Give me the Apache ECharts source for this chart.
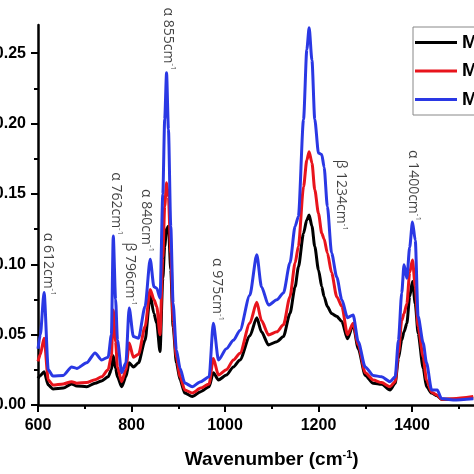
<!DOCTYPE html>
<html>
<head>
<meta charset="utf-8">
<script src="https://cdn.jsdelivr.net/npm/echarts@6/dist/echarts.min.js"></script>
<style>html,body{margin:0;padding:0;background:#fff;}#c{width:474px;height:474px;}</style>
</head>
<body>
<div id="c"></div>
<script>
var seriesNames = ['M1', 'M2', 'M3'];
var seriesColors = ['#000000', '#e8141c', '#2a38e4'];
var wavenumber = [600,605,613,622,632,654,672,683,704,722,736,750,757,761,766,770,779,788,795,804,815,829,840,848,854,861,867,871,875,879,884,889,896,904,914,930,948,966,975,986,1003,1018,1032,1053,1068,1078,1093,1111,1125,1139,1150,1157,1168,1175,1180,1186,1192,1200,1207,1212,1219,1228,1239,1250,1262,1274,1285,1300,1317,1335,1353,1364,1371,1378,1383,1389,1395,1401,1407,1413,1424,1431,1442,1454,1463,1488,1531];
var blackValues = [0.019,0.021,0.0237,0.0142,0.0114,0.012,0.015,0.0135,0.013,0.0154,0.017,0.020,0.025,0.035,0.026,0.020,0.013,0.020,0.030,0.027,0.030,0.046,0.078,0.065,0.058,0.038,0.090,0.1126,0.125,0.127,0.096,0.0557,0.030,0.0178,0.0085,0.006,0.0095,0.013,0.023,0.0178,0.0213,0.027,0.032,0.049,0.062,0.052,0.0427,0.045,0.0486,0.065,0.084,0.098,0.122,0.1316,0.135,0.127,0.1126,0.096,0.084,0.077,0.070,0.065,0.063,0.0593,0.047,0.057,0.040,0.021,0.0154,0.0147,0.0107,0.0154,0.033,0.046,0.052,0.058,0.077,0.0877,0.072,0.051,0.026,0.013,0.0085,0.0065,0.004,0.004,0.005];
var redValues = [0.031,0.036,0.0475,0.0178,0.0142,0.015,0.0166,0.0155,0.016,0.018,0.020,0.025,0.035,0.0675,0.045,0.027,0.0166,0.025,0.044,0.034,0.036,0.0557,0.082,0.075,0.070,0.050,0.105,0.141,0.158,0.148,0.108,0.060,0.034,0.020,0.0107,0.0085,0.012,0.015,0.033,0.0213,0.025,0.032,0.0367,0.058,0.073,0.060,0.0498,0.052,0.057,0.077,0.101,0.1126,0.155,0.174,0.180,0.172,0.153,0.136,0.122,0.118,0.108,0.094,0.077,0.070,0.050,0.058,0.0427,0.023,0.0178,0.0159,0.013,0.0166,0.037,0.060,0.065,0.072,0.094,0.103,0.084,0.0557,0.034,0.0178,0.009,0.007,0.004,0.0045,0.006];
var blueValues = [0.040,0.050,0.080,0.025,0.0206,0.021,0.027,0.026,0.030,0.037,0.032,0.034,0.050,0.120,0.075,0.046,0.023,0.030,0.069,0.0486,0.0475,0.070,0.1036,0.084,0.083,0.076,0.150,0.203,0.236,0.196,0.127,0.0725,0.039,0.026,0.0156,0.013,0.0166,0.020,0.058,0.032,0.040,0.046,0.053,0.078,0.1067,0.084,0.071,0.0747,0.0796,0.101,0.127,0.134,0.203,0.2525,0.268,0.245,0.203,0.179,0.178,0.169,0.141,0.108,0.091,0.0747,0.062,0.064,0.045,0.027,0.021,0.020,0.0166,0.020,0.046,0.0796,0.0996,0.090,0.112,0.130,0.117,0.063,0.044,0.030,0.0107,0.0107,0.0047,0.0036,0.0045];
var yTickValues = [0, 0.05, 0.10, 0.15, 0.20, 0.25];
var yMinorTickValues = [0.025, 0.075, 0.125, 0.175, 0.225];
var annotationGreek = ['α', 'α', 'β', 'α', 'α', 'α', 'β', 'α'];
var annotationNumbers = ['612', '762', '796', '840', '855', '975', '1234', '1400'];
var annotationX = [622, 766, 797, 832, 879, 983, 1248, 1403];
var annotationY = [0.100, 0.143, 0.093, 0.131, 0.260, 0.082, 0.149, 0.156];

var allValues = [blackValues, redValues, blueValues];
var lineSeries = seriesNames.map(function (name, i) {
  return {
    name: name,
    type: 'line',
    xAxisIndex: 0,
    yAxisIndex: 0,
    symbol: 'none',
    smooth: 0.25,
    smoothMonotone: 'x',
    color: seriesColors[i],
    lineStyle: { width: 3, color: seriesColors[i] },
    z: 3 + i,
    data: wavenumber.map(function (w, j) { return [w, allValues[i][j]]; })
  };
});

var annotationSeries = {
  name: 'peaks',
  type: 'scatter',
  symbolSize: 0,
  silent: true,
  z: 10,
  label: {
    show: true,
    position: 'inside',
    rotate: -90,
    formatter: function (p) {
      return '{m|' + annotationGreek[p.dataIndex] + ' ' + annotationNumbers[p.dataIndex] + 'cm}{s|-1}';
    },
    rich: {
      m: { fontFamily: 'Open Sans, Noto Sans, sans-serif', fontSize: 14, color: '#111', lineHeight: 17 },
      s: { fontFamily: 'Open Sans, Noto Sans, sans-serif', fontSize: 8, color: '#111', verticalAlign: 'top', lineHeight: 17 }
    }
  },
  data: annotationX.map(function (x, i) { return [x, annotationY[i]]; })
};

var legendIcon = 'path://M0,0 L42,0 L42,3 L0,3 Z';

var chart = echarts.init(document.getElementById('c'), null, { renderer: 'canvas' });
chart.setOption({
  animation: false,
  backgroundColor: '#ffffff',
  grid: { left: 38, top: 25, width: 467.5, height: 380, containLabel: false, outerBoundsMode: 'none' },
  legend: {
    data: seriesNames.map(function (n) { return { name: n, icon: legendIcon }; }),
    orient: 'vertical',
    left: 413,
    top: 27,
    itemWidth: 42,
    itemHeight: 14,
    itemGap: 9.5,
    padding: [6, 60, 6, 2],
    borderColor: '#888',
    borderWidth: 1,
    textStyle: { fontFamily: 'Liberation Sans, Arial, sans-serif', fontWeight: 'bold', fontSize: 19, color: '#000', lineHeight: 14 }
  },
  xAxis: {
    type: 'value',
    min: 600,
    max: 1600,
    interval: 200,
    name: '{t|Wavenumber (cm}{s|-1}{t|)}',
    nameLocation: 'middle',
    nameGap: 44,
    nameTextStyle: {
      rich: {
        t: { fontFamily: 'Liberation Sans, Arial, sans-serif', fontWeight: 'bold', fontSize: 19, color: '#000', lineHeight: 22 },
        s: { fontFamily: 'Liberation Sans, Arial, sans-serif', fontWeight: 'bold', fontSize: 11, color: '#000', verticalAlign: 'top', lineHeight: 22 }
      }
    },
    axisLine: { show: true, onZero: false, lineStyle: { color: '#000', width: 2.5 } },
    axisTick: { show: true, inside: false, length: 7, lineStyle: { color: '#000', width: 2 } },
    minorTick: { show: true, splitNumber: 2, length: 4, lineStyle: { color: '#000', width: 2 } },
    axisLabel: { margin: 13, fontFamily: 'Liberation Sans, Arial, sans-serif', fontWeight: 'bold', fontSize: 16, color: '#000', formatter: function (v) { return String(v); } },
    splitLine: { show: false },
    minorSplitLine: { show: false }
  },
  yAxis: [{
    type: 'value',
    min: 0,
    max: 0.27,
    interval: 0.05,
    axisLine: { show: true, onZero: false, lineStyle: { color: '#000', width: 2.5 } },
    axisTick: { show: true, inside: false, length: 7, customValues: yTickValues, lineStyle: { color: '#000', width: 2 } },
    axisLabel: {
      margin: 12,
      customValues: yTickValues,
      fontFamily: 'Liberation Sans, Arial, sans-serif', fontWeight: 'bold', fontSize: 16, color: '#000',
      formatter: function (v) { return v.toFixed(2); }
    },
    splitLine: { show: false }
  }, {
    type: 'value',
    min: 0,
    max: 0.27,
    position: 'left',
    axisLine: { show: false },
    axisTick: { show: true, inside: false, length: 4, customValues: yMinorTickValues, lineStyle: { color: '#000', width: 2 } },
    axisLabel: { show: false },
    splitLine: { show: false }
  }],
  series: lineSeries.concat([annotationSeries])
});
</script>
</body>
</html>
